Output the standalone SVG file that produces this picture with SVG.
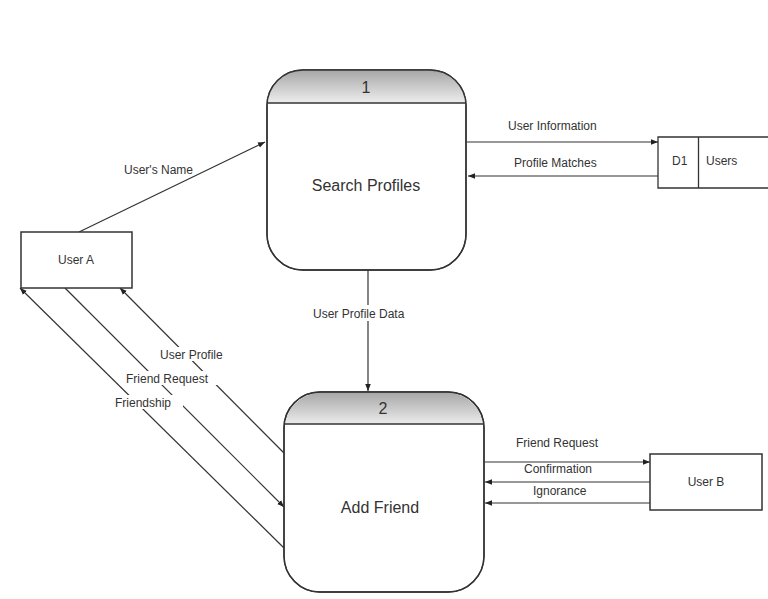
<svg xmlns="http://www.w3.org/2000/svg" width="768" height="599" viewBox="0 0 768 599">
<style>
.s{fill:none;stroke:#333;stroke-width:1.3}
.b{fill:#fff;stroke:#333;stroke-width:1.5}
.l{font-family:"Liberation Sans",Arial,sans-serif;font-size:12px;fill:#333}
.p{font-family:"Liberation Sans",Arial,sans-serif;font-size:16px;fill:#333;text-anchor:middle}
.c{stroke:#333;stroke-width:1.2;fill:none;marker-end:url(#a)}
</style>
<defs>
<marker id="a" viewBox="0 0 10 10" refX="10" refY="5" markerWidth="7" markerHeight="7" orient="auto" markerUnits="userSpaceOnUse"><path d="M0,1L10,5L0,9z" fill="#222"/></marker>
<linearGradient id="g" x1="0" y1="0" x2="0" y2="1"><stop offset="0" stop-color="#a8a8a8"/><stop offset="1" stop-color="#f4f4f4"/></linearGradient>
</defs>
<rect width="768" height="599" fill="#fff"/>
<g id="connectors">
<line class="c" x1="79" y1="232" x2="265" y2="142"/>
<line class="c" x1="467" y1="142" x2="658" y2="142"/>
<line class="c" x1="658" y1="176" x2="468" y2="176"/>
<line class="c" x1="368" y1="270" x2="368" y2="391"/>
<line class="c" x1="485" y1="462" x2="650" y2="462"/>
<line class="c" x1="650" y1="482" x2="485" y2="482"/>
<line class="c" x1="650" y1="503" x2="485" y2="503"/>
<line class="c" x1="284" y1="453" x2="120" y2="288"/>
<line class="c" x1="65" y1="288" x2="284" y2="507"/>
<line class="c" x1="284" y1="548" x2="20" y2="288"/>
</g>
<g id="labels">
<text class="l" x="124" y="174">User's Name</text>
<text class="l" x="508" y="130">User Information</text>
<text class="l" x="514" y="167">Profile Matches</text>
<rect x="310" y="305" width="118" height="16" fill="#fff"/>
<text class="l" x="313" y="318">User Profile Data</text>
<rect x="158" y="347" width="80" height="14" fill="#fff"/>
<text class="l" x="160" y="359">User Profile</text>
<rect x="124" y="371" width="104" height="14" fill="#fff"/>
<text class="l" x="126" y="383">Friend Request</text>
<rect x="113" y="395" width="70" height="14" fill="#fff"/>
<text class="l" x="115" y="407">Friendship</text>
<text class="l" x="516" y="447">Friend Request</text>
<text class="l" x="524" y="473">Confirmation</text>
<text class="l" x="533" y="495">Ignorance</text>
</g>
<g id="p1">
<rect class="b" x="267" y="70" width="199" height="200" rx="36"/>
<path d="M267,103V106A36,36 0 0 1 303,70H430A36,36 0 0 1 466,106V103Z" fill="url(#g)"/>
<path d="M267.75,103V106A36,36 0 0 1 303,70.75H430A36,36 0 0 1 465.25,106V103Z" fill="url(#g)" stroke="none"/>
<rect x="267" y="70" width="199" height="200" rx="36" class="s"/>
<line class="s" x1="267" y1="103" x2="466" y2="103"/>
<text class="p" x="366" y="93">1</text>
<text class="p" x="366" y="191">Search Profiles</text>
</g>
<g id="p2">
<rect class="b" x="284" y="392" width="200" height="200" rx="36"/>
<path d="M284.75,424V428A36,36 0 0 1 320,392.75H448A36,36 0 0 1 483.25,428V424Z" fill="url(#g)"/>
<rect x="284" y="392" width="200" height="200" rx="36" class="s"/>
<line class="s" x1="284" y1="424" x2="484" y2="424"/>
<text class="p" x="383" y="414">2</text>
<text class="p" x="380" y="513">Add Friend</text>
</g>
<g id="userA">
<rect class="b" x="21" y="232" width="111" height="56"/>
<text class="l" x="76" y="264" text-anchor="middle">User A</text>
</g>
<g id="d1">
<path class="s" d="M768,137H658V188H768M698.5,137V188"/>
<text class="l" x="672" y="165">D1</text>
<text class="l" x="706" y="165">Users</text>
</g>
<g id="userB">
<rect class="b" x="650" y="454" width="112" height="56"/>
<text class="l" x="706" y="486" text-anchor="middle">User B</text>
</g>
</svg>
